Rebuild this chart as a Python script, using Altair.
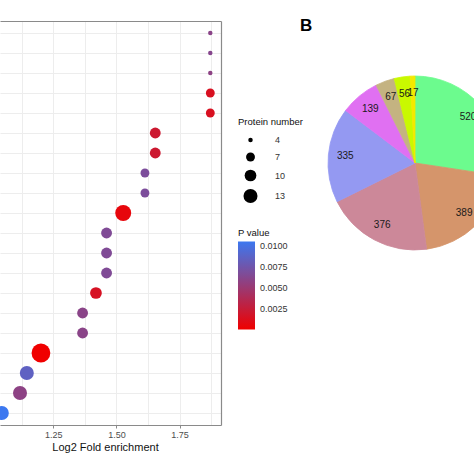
import altair as alt
import pandas as pd

# Enrichment dot plot: one row per term, ranked from top to bottom
rank = list(range(1, 21))
fold_enrichment = [1.872, 1.872, 1.872, 1.872, 1.872, 1.654, 1.654, 1.613, 1.613, 1.527,
                   1.461, 1.461, 1.461, 1.419, 1.366, 1.366, 1.201, 1.145, 1.118, 1.046]
protein_number = [4, 4, 4, 7, 7, 9, 9, 7, 7, 16,
                  9, 9, 9, 10, 9, 9, 21, 13, 13, 13]
p_value = [0.0060, 0.0062, 0.0058, 0.0015, 0.0015, 0.0022, 0.0022, 0.0068, 0.0068, 0.0006,
           0.0066, 0.0066, 0.0066, 0.0016, 0.0060, 0.0060, 0.0001, 0.0085, 0.0058, 0.0105]

# Pie chart counts, clockwise from 12 o'clock
pie_counts = [520, 389, 376, 335, 139, 67, 56, 17]
pie_colors = ["#6CFB8E", "#D5956B", "#CC8899", "#9499F2", "#E070F2", "#C4B381", "#C9F900", "#F4E900"]

FONT = "Liberation Sans"

dots_df = pd.DataFrame({"rank": rank, "fold": fold_enrichment,
                        "proteins": protein_number, "pvalue": p_value})
pie_df = pd.DataFrame({"slice": list(range(len(pie_counts))), "count": pie_counts,
                       "label": [str(c) for c in pie_counts]})

x_scale = alt.Scale(domain=[1.0388, 1.9144], nice=False, zero=False)
y_scale = alt.Scale(domain=[0.4, 20.6], reverse=True, nice=False, zero=False)

# Panel frame and grid (top/right border, minor + major grid lines)
frame = alt.Chart(dots_df).mark_point(opacity=0).encode(
    x=alt.X("fold:Q", scale=x_scale,
            axis=alt.Axis(orient="top", values=[1.125, 1.25, 1.375, 1.5, 1.625, 1.75, 1.875],
                          labels=False, ticks=False, title=None, grid=True,
                          gridColor="#EDEDED", gridWidth=1,
                          domainColor="#8A8A8A", domainWidth=1.2)),
    y=alt.Y("rank:Q", scale=y_scale,
            axis=alt.Axis(orient="right", values=rank, labels=False, ticks=False, title=None,
                          grid=True, gridColor="#EDEDED", gridWidth=1,
                          domainColor="#8A8A8A", domainWidth=1.2)),
)

dots = alt.Chart(dots_df).mark_circle(opacity=1).encode(
    x=alt.X("fold:Q", scale=x_scale,
            axis=alt.Axis(orient="bottom", values=[1.25, 1.5, 1.75], format=".2f", grid=False,
                          domainColor="#8A8A8A", domainWidth=1.2, tickColor="#8A8A8A",
                          tickSize=3, labelFontSize=9, labelColor="#4D4D4D", labelPadding=2,
                          title="Log2 Fold enrichment", titleFontSize=11,
                          titleFontWeight="normal", titleColor="#111111", titlePadding=2,
                          titleX=105)),
    y=alt.Y("rank:Q", scale=y_scale, axis=None),
    size=alt.Size("proteins:Q",
                  scale=alt.Scale(domain=[4, 22], range=[20, 373], zero=False),
                  legend=alt.Legend(title="Protein number", values=[4, 7, 10, 13],
                                    orient="none", legendX=238, legendY=96,
                                    symbolFillColor="#000000", symbolStrokeColor="#000000",
                                    symbolStrokeWidth=0, symbolOpacity=1, symbolType="circle",
                                    symbolOffset=5, labelOffset=17,
                                    titleFontSize=9.5, titleFontWeight="normal",
                                    titleColor="#111111", labelFontSize=9,
                                    labelColor="#333333", rowPadding=7, titlePadding=9)),
    color=alt.Color("pvalue:Q",
                    scale=alt.Scale(domain=[0.0001, 0.0105], range=["#F00000", "#3C78F0"],
                                    interpolate="rgb"),
                    legend=alt.Legend(title="P value", values=[0.0025, 0.005, 0.0075, 0.01],
                                      format=".4f", orient="none", legendX=238, legendY=207,
                                      direction="vertical", gradientLength=88,
                                      gradientThickness=17, gradientStrokeWidth=0,
                                      titleFontSize=9.5, titleFontWeight="normal",
                                      titleColor="#111111", labelFontSize=9,
                                      labelColor="#333333", labelOffset=5, titlePadding=4)),
)

slice_scale = alt.Scale(domain=list(range(len(pie_counts))), range=pie_colors)
pie_base = alt.Chart(pie_df).encode(
    theta=alt.Theta("count:Q", stack=True),
    order=alt.Order("slice:Q"),
    x=alt.value(415),
    y=alt.value(142),
)
pie = pie_base.mark_arc(radius=87, strokeWidth=0.8).encode(
    color=alt.Color("slice:N", scale=slice_scale, legend=None),
    stroke=alt.Stroke("slice:N", scale=slice_scale, legend=None),
)
pie_labels = pie_base.mark_text(radius=70, fontSize=10, font=FONT, color="#1A1A1A").encode(
    text="label:N",
)

chart = alt.layer(frame, dots, pie, pie_labels).resolve_scale(
    color="independent"
).resolve_axis(
    x="independent", y="independent"
).properties(
    width=221, height=404,
    padding={"left": 0, "top": 21, "right": 253, "bottom": 49},
    autosize="none",
    title=alt.TitleParams("B", anchor="start", frame="group", dx=300, dy=18,
                          fontSize=17, fontWeight="bold", font=FONT, color="#000000"),
).configure(
    font=FONT, background="white"
).configure_view(stroke=None)

chart.save("out.html", embed_options={"renderer": "svg", "actions": False})
